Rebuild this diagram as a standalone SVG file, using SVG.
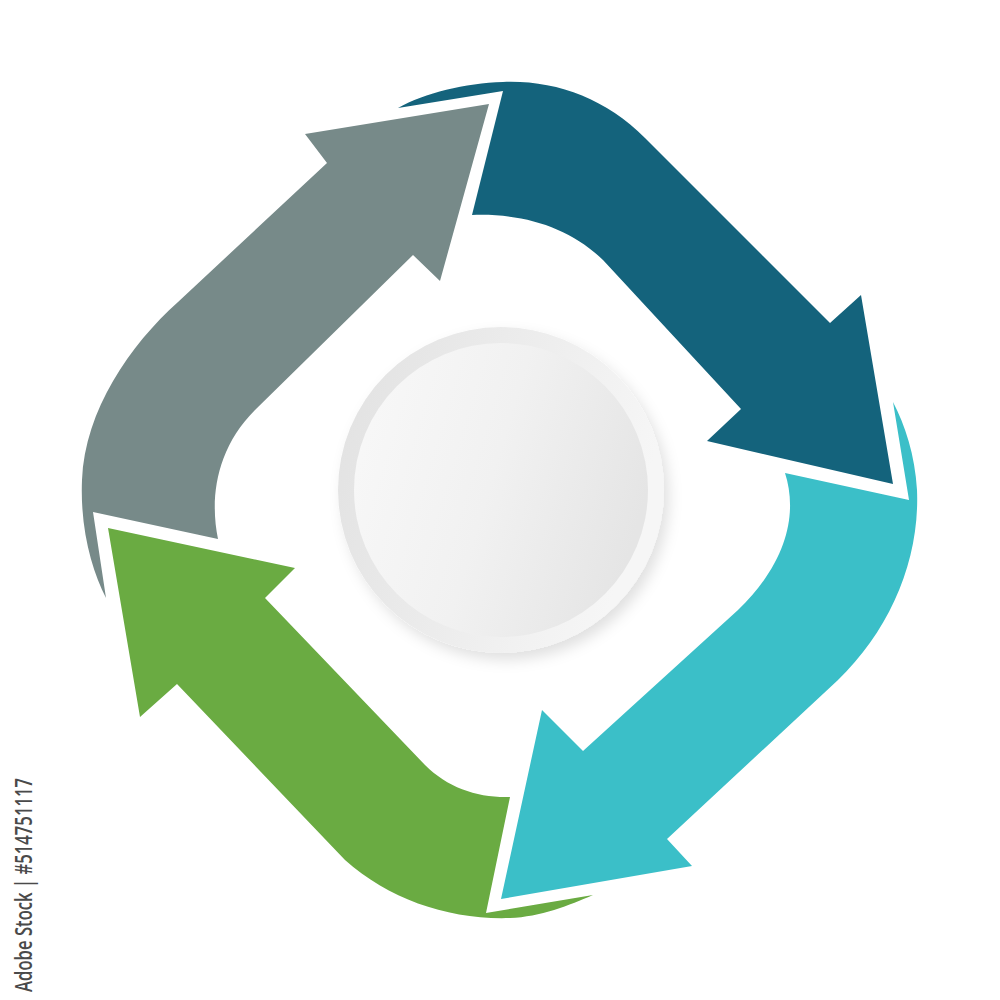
<svg xmlns="http://www.w3.org/2000/svg" width="1000" height="1000" viewBox="0 0 1000 1000">
  <style>
    .navy { fill: #14637c; }
    .teal { fill: #3bbfc8; }
    .green { fill: #6aab42; }
    .grey { fill: #778a89; }
    .credit { font-family: "Open Sans", "Liberation Sans", sans-serif; font-weight: 600; font-size: 23px; fill: #4a4a4a; }
  </style>
  <defs>
    <linearGradient id="ringGrad" x1="0" y1="0" x2="1" y2="0.3">
      <stop offset="0" stop-color="#e1e1e1"/>
      <stop offset="1" stop-color="#f6f6f6"/>
    </linearGradient>
    <linearGradient id="diskGrad" x1="0" y1="0.2" x2="1" y2="0.5">
      <stop offset="0" stop-color="#f8f8f8"/>
      <stop offset="0.5" stop-color="#f1f1f1"/>
      <stop offset="1" stop-color="#e5e5e5"/>
    </linearGradient>
    <filter id="shadow" x="-20%" y="-20%" width="150%" height="150%">
      <feDropShadow dx="5" dy="7" stdDeviation="7" flood-color="#000000" flood-opacity="0.12"/>
    </filter>
  </defs>
  <rect width="1000" height="1000" fill="#ffffff"/>

  <g id="arrow-navy">
    <path class="navy" d="M 398,108 L 503,91 L 472,215 C 525,213 570,228 603,260 L 741,409 L 707,441 L 893,484 L 861,295 L 830,323 L 645,138 C 605,98 555,80 503,82 C 465,83 425,93 398,108 Z"/>
  </g>
  <g id="arrow-teal">
    <path class="teal" d="M 893,402 L 909,500 L 785,473 C 797,510 790,560 738,610 L 583,751 L 542,710 L 501,899 L 692,866 L 667,839 L 838,680 C 890,630 920,560 917,490 C 915,455 905,425 893,402 Z"/>
  </g>
  <g id="arrow-green">
    <path class="green" d="M 593,895 L 486,913 L 510,797 C 478,798 448,788 425,765 L 265,598 L 295,568 L 108,528 L 140,717 L 177,684 L 345,860 C 390,900 450,920 510,918 C 540,917 570,905 593,895 Z"/>
  </g>
  <g id="arrow-grey">
    <path class="grey" d="M 106,598 L 93,512 L 218,539 C 210,500 215,450 255,410 L 413,255 L 440,281 L 489,104 L 305,134 L 327,163 L 178,302 C 130,345 85,410 82,480 C 80,530 92,570 106,598 Z"/>
  </g>

  <g id="center-circle">
    <circle cx="501" cy="490" r="163" fill="url(#ringGrad)" filter="url(#shadow)"/>
    <circle cx="501" cy="490" r="147" fill="url(#diskGrad)"/>
  </g>

  <g id="connectors"/>

  <text class="credit" transform="translate(32,992) rotate(-90)" x="0" y="0" textLength="214" lengthAdjust="spacingAndGlyphs">Adobe Stock | #514751117</text>
</svg>
